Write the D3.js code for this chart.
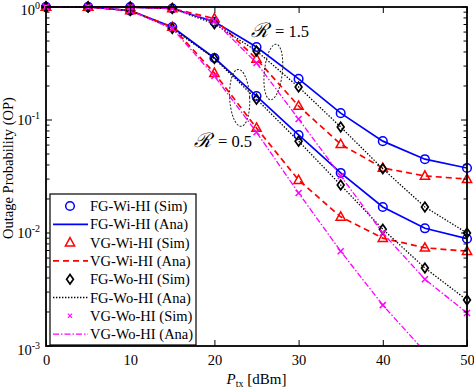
<!DOCTYPE html>
<html>
<head>
<meta charset="utf-8">
<script src="https://cdn.jsdelivr.net/npm/d3@7"></script>
<style>
  body { margin: 0; background: #fff; }
  svg text { font-family: "Liberation Serif", "DejaVu Serif", serif; fill: #000; }
</style>
</head>
<body>
<svg id="op" width="474" height="388"></svg>
<script>
// transmit power [dBm]
const pTx = [0, 5, 10, 15, 20, 25, 30, 35, 40, 45, 50];

// R = 1.5
const fgWiHi15 = [1, 1, 0.998, 0.97, 0.74, 0.443, 0.231, 0.115, 0.065, 0.045, 0.0376];
const vgWiHi15 = [1, 1, 0.998, 0.97, 0.79, 0.347, 0.133, 0.061, 0.0376, 0.032, 0.030];
const fgWoHi15 = [1, 1, 0.998, 0.97, 0.71, 0.408, 0.196, 0.0867, 0.037, 0.017, 0.0100];
const vgWoHi15 = [1, 1, 0.998, 0.97, 0.75, 0.32, 0.102, 0.032, 0.0100, 0.0039, 0.00196];

// R = 0.5
const fgWiHi05 = [1, 1, 0.93, 0.665, 0.354, 0.163, 0.0737, 0.034, 0.017, 0.011, 0.0089];
const vgWiHi05 = [1, 1, 0.93, 0.665, 0.26, 0.085, 0.0294, 0.0139, 0.009, 0.0074, 0.0069];
const fgWoHi05 = [1, 1, 0.93, 0.645, 0.35, 0.153, 0.065, 0.0266, 0.0108, 0.0049, 0.00255];
const vgWoHi05 = [1, 1, 0.93, 0.645, 0.245, 0.078, 0.0226, 0.0069, 0.0023, 0.00089, 0.00033];

const xTicks = [0, 10, 20, 30, 40, 50];
const yTicks = [1, 0.1, 0.01, 0.001];
const yTickExp = ["0", "-1", "-2", "-3"];

const legendLabels = ["FG-Wi-HI (Sim)", "FG-Wi-HI (Ana)", "VG-Wi-HI (Sim)", "VG-Wi-HI (Ana)",
                      "FG-Wo-HI (Sim)", "FG-Wo-HI (Ana)", "VG-Wo-HI (Sim)", "VG-Wo-HI (Ana)"];

const styles = {
    fgWi: { color: "#0000ff", dash: null, width: 1.7, marker: "circle" },
    vgWi: { color: "#ff0000", dash: "6,4", width: 1.7, marker: "triangle" },
    fgWo: { color: "#000000", dash: "1.4,1.6", width: 1.3, marker: "diamond" },
    vgWo: { color: "#ff00ff", dash: "6,2,1.5,2", width: 1.3, marker: "x" }
};

const series = [
    { key: "fgWi", values: fgWiHi15 }, { key: "fgWi", values: fgWiHi05 },
    { key: "vgWi", values: vgWiHi15 }, { key: "vgWi", values: vgWiHi05 },
    { key: "fgWo", values: fgWoHi15 }, { key: "fgWo", values: fgWoHi05 },
    { key: "vgWo", values: vgWoHi15 }, { key: "vgWo", values: vgWoHi05 }
];

const mLeft = 46, mRight = 467, mTop = 7, mBottom = 346;

const svg = d3.select("#op");

const xScale = d3.scaleLinear().domain([0, 50]).range([mLeft, mRight]);
const yScale = d3.scaleLog().domain([0.001, 1]).range([mBottom, mTop]);

svg.append("defs").append("clipPath").attr("id", "plotclip")
    .append("rect")
    .attr("x", mLeft).attr("y", mTop - 10)
    .attr("width", mRight - mLeft).attr("height", mBottom - mTop + 10);

// markers
function drawMarker(g, type, color) {
    if (type === "circle") {
        g.append("circle").attr("r", 4.3).attr("fill", "none")
            .attr("stroke", color).attr("stroke-width", 1.5);
    } else if (type === "triangle") {
        g.append("path").attr("d", "M0,-5L4.6,3.3L-4.6,3.3Z").attr("fill", "none")
            .attr("stroke", color).attr("stroke-width", 1.5);
    } else if (type === "diamond") {
        g.append("path").attr("d", "M0,-4.8L3.4,0L0,4.8L-3.4,0Z").attr("fill", "none")
            .attr("stroke", color).attr("stroke-width", 1.7);
    } else {
        g.append("path").attr("d", "M-3,-3L3,3M-3,3L3,-3").attr("fill", "none")
            .attr("stroke", color).attr("stroke-width", 1.5);
    }
}

const line = d3.line()
    .x((d, i) => xScale(pTx[i]))
    .y(d => yScale(d));

const plot = svg.append("g");
const lines = plot.append("g").attr("clip-path", "url(#plotclip)");

series.forEach(s => {
    const st = styles[s.key];
    lines.append("path")
        .attr("d", line(s.values))
        .attr("fill", "none")
        .attr("stroke", st.color)
        .attr("stroke-width", st.width)
        .attr("stroke-dasharray", st.dash);
});

series.forEach(s => {
    const st = styles[s.key];
    s.values.forEach((v, i) => {
        if (v < 0.001) return;
        const g = plot.append("g")
            .attr("transform", `translate(${xScale(pTx[i])},${yScale(v)})`);
        drawMarker(g, st.marker, st.color);
    });
});

// ellipses + annotations
const ann = svg.append("g");
const ell = [
    { x: 27.0, v: 0.266, rx: 9, ry: 28, rot: 6 },
    { x: 23.0, v: 0.157, rx: 10, ry: 28.5, rot: -3 }
];
ell.forEach(e => {
    const cx = xScale(e.x), cy = yScale(e.v);
    ann.append("ellipse")
        .attr("cx", cx).attr("cy", cy)
        .attr("rx", e.rx).attr("ry", e.ry)
        .attr("transform", `rotate(${e.rot}, ${cx}, ${cy})`)
        .attr("fill", "none").attr("stroke", "#222").attr("stroke-width", 1)
        .attr("stroke-dasharray", "2,1.5");
});

function rLabel(x, y, val) {
    const t = ann.append("text").attr("x", x).attr("y", y).attr("font-size", 16.5);
    t.append("tspan").attr("font-family", "DejaVu Serif").attr("font-style", "italic")
        .attr("font-size", 20).text("ℛ");
    t.append("tspan").attr("dx", 7).text("= " + val);
}
rLabel(251, 37, "1.5");
rLabel(194, 147, "0.5");

// axes: inward ticks on all sides
const minor = yScale.ticks().filter(v => !yTicks.includes(v));

function yTicksOn(x, dir) {
    const g = svg.append("g");
    g.selectAll("line.major").data(yTicks).enter().append("line")
        .attr("x1", x).attr("x2", x + dir * 6)
        .attr("y1", d => yScale(d)).attr("y2", d => yScale(d))
        .attr("stroke", "#000").attr("stroke-width", 1);
    g.selectAll("line.minor").data(minor).enter().append("line")
        .attr("x1", x).attr("x2", x + dir * 3.5)
        .attr("y1", d => yScale(d)).attr("y2", d => yScale(d))
        .attr("stroke", "#000").attr("stroke-width", 1);
}
yTicksOn(mLeft, 1);
yTicksOn(mRight, -1);

svg.append("g")
    .attr("transform", `translate(0,${mBottom})`)
    .call(d3.axisBottom(xScale).tickValues(xTicks).tickSizeInner(-6).tickSizeOuter(0).tickPadding(9).tickFormat(d3.format("d")))
    .call(g => g.select(".domain").remove())
    .selectAll("text")
    .attr("font-size", 14.5)
    .attr("font-family", "Liberation Serif, serif");

svg.append("g")
    .attr("transform", `translate(0,${mTop})`)
    .call(d3.axisTop(xScale).tickValues(xTicks).tickSizeInner(-6).tickSizeOuter(0).tickFormat(""))
    .call(g => g.select(".domain").remove());

svg.append("rect")
    .attr("x", mLeft).attr("y", mTop)
    .attr("width", mRight - mLeft).attr("height", mBottom - mTop)
    .attr("fill", "none").attr("stroke", "#000").attr("stroke-width", 1.8);

// y tick labels 10^k (end labels nudged inward like the original)
const yLabelShift = [8, 5, 5, 9];
yTicks.forEach((v, i) => {
    const t = svg.append("text")
        .attr("x", 40).attr("y", yScale(v) + yLabelShift[i])
        .attr("text-anchor", "end")
        .attr("font-size", 14.5);
    t.append("tspan").text("10");
    t.append("tspan").attr("dy", -6).attr("font-size", 10).text(yTickExp[i]);
});

// axis labels
const xl = svg.append("text")
    .attr("x", (mLeft + mRight) / 2).attr("y", 384)
    .attr("text-anchor", "middle").attr("font-size", 15);
xl.append("tspan").attr("font-style", "italic").text("P");
xl.append("tspan").attr("dy", 3).attr("font-size", 10).text("tx");
xl.append("tspan").attr("dy", -3).text(" [dBm]");

svg.append("text")
    .attr("transform", "translate(13,168) rotate(-90)")
    .attr("text-anchor", "middle").attr("font-size", 14.5)
    .text("Outage Probability (OP)");

// legend
const lg = svg.append("g");
lg.append("rect")
    .attr("x", 50).attr("y", 194).attr("width", 146).attr("height", 151)
    .attr("fill", "#fff").attr("stroke", "#000").attr("stroke-width", 1.2);

const legendKeys = ["fgWi", "fgWi", "vgWi", "vgWi", "fgWo", "fgWo", "vgWo", "vgWo"];
legendLabels.forEach((lab, i) => {
    const y = 206 + i * 18.3;
    const st = styles[legendKeys[i]];
    if (i % 2 === 0) {
        const g = lg.append("g").attr("transform", `translate(70,${y})`);
        drawMarker(g, st.marker, st.color);
        if (st.marker === "x") g.attr("transform", `translate(70,${y}) scale(0.7)`);
    } else {
        lg.append("line")
            .attr("x1", 53).attr("x2", 88).attr("y1", y).attr("y2", y)
            .attr("stroke", st.color).attr("stroke-width", st.width)
            .attr("stroke-dasharray", st.dash);
    }
    lg.append("text")
        .attr("x", 90).attr("y", y + 5)
        .attr("font-size", 14.5)
        .text(lab);
});
</script>
</body>
</html>
